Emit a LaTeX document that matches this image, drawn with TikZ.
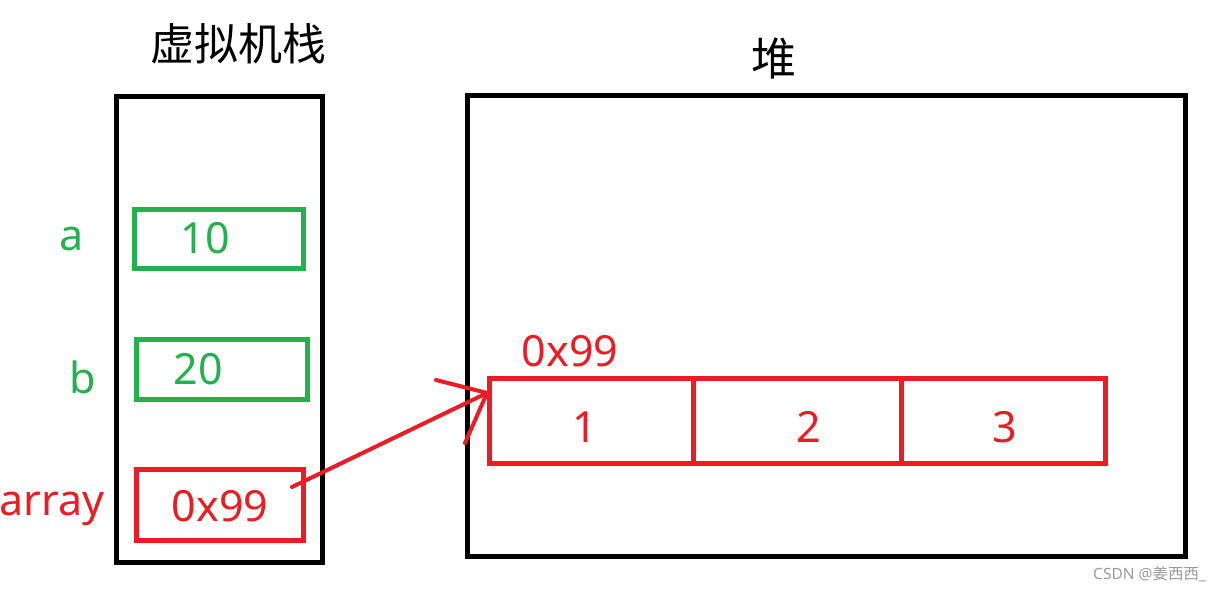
\documentclass[tikz,border=0pt]{standalone}
\usepackage{fontspec}
\setmainfont{Noto Sans}
\newfontfamily\cjk{Noto Sans CJK SC}
\definecolor{pgreen}{HTML}{22B14C}
\definecolor{pred}{HTML}{ED1C24}
\definecolor{wm}{HTML}{9A9A9A}
\begin{document}
\begin{tikzpicture}[x=1pt,y=-1pt,
  box/.style={draw, line width=5pt, inner sep=0pt, outer sep=0pt, minimum width=#1},
  blackbox/.style={box=#1, draw=black},
  gbox/.style={box=#1, draw=pgreen},
  rbox/.style={box=#1, draw=pred},
  lbl/.style={inner sep=0pt, font=\fontsize{43}{50}\selectfont},
  gtxt/.style={lbl, text=pgreen},
  rtxt/.style={lbl, text=pred},
  arr/.style={draw=pred, line width=4pt, line cap=round}]
\useasboundingbox (0,0) rectangle (1224,591);
% titles
\node[inner sep=0pt, font=\cjk\fontsize{44}{52}\selectfont] (t1) at (238,44) {虚拟机栈};
\node[inner sep=0pt, font=\cjk\fontsize{45}{54}\selectfont] (t2) at (774,59) {堆};
% stack and heap frames
\node[blackbox=206pt, minimum height=465pt] (stack) at (219,329.5) {};
\node[blackbox=718pt, minimum height=460pt] (heap) at (826,326) {};
% stack slots
\node[gbox=169.5pt, minimum height=59pt] (sa) at (218.75,239) {};
\node[gbox=171pt, minimum height=60pt] (sb) at (221.5,369) {};
\node[rbox=167.5pt, minimum height=71pt] (sarr) at (219.75,504.5) {};
\node[gtxt] (va) at (205,238.5) {10};
\node[gtxt] (vb) at (198.5,369) {20};
\node[rtxt] (varr) at (220,506.5) {0x99};
\node[gtxt, anchor=base] (la) at (72,250) {a};
\node[gtxt, anchor=base] (lb) at (82.5,393) {b};
\node[rtxt, anchor=base] (larr) at (52,515) {array};
% heap array
\node[rbox=204pt, minimum height=84.5pt] (c1) at (591.5,421) {};
\node[rbox=208pt, minimum height=84.5pt] (c2) at (797.5,421) {};
\node[rbox=203.5pt, minimum height=84.5pt] (c3) at (1003.25,421) {};
\node[rtxt] (v1) at (585,427) {1};
\node[rtxt] (v2) at (809,427) {2};
\node[rtxt] (v3) at (1005,427) {3};
\node[rtxt] (addr) at (570,351.5) {0x99};
% arrow
\coordinate (s) at (292,487);
\coordinate (t) at (487,393);
\coordinate (b1) at (436,380);
\coordinate (b2) at (465,443);
\draw[arr] (s) -- (t);
\draw[arr] (b1) -- (t);
\draw[arr] (b2) -- (t);
% watermark
\node[inner sep=0pt, anchor=west, text=wm, font=\fontsize{15.5}{18}\selectfont] (wmk) at (1093,574) {CSDN @{\cjk 姜西西}\_};
\end{tikzpicture}
\end{document}
